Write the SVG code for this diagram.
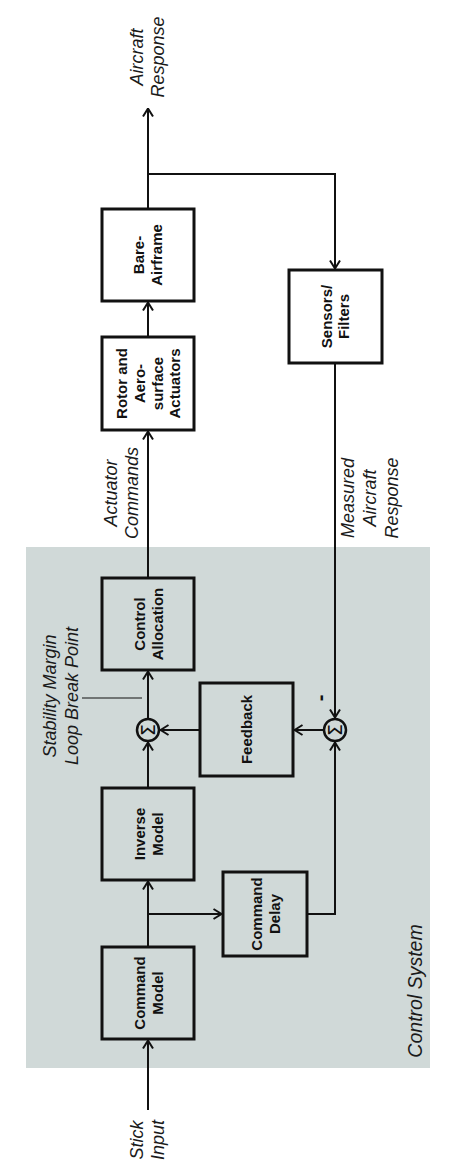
<svg xmlns="http://www.w3.org/2000/svg" width="474" height="1165" viewBox="0 0 474 1165">
<style>
.box{fill:none;stroke:#111;stroke-width:3}
.wbox{fill:#fff;stroke:#111;stroke-width:3}
.gbox{fill:#d0d9d8;stroke:#111;stroke-width:3}
.bl{font-family:"Liberation Sans",Arial,sans-serif;font-weight:bold;font-size:15px;fill:#111;text-anchor:middle}
.it{font-family:"Liberation Sans",Arial,sans-serif;font-style:italic;font-size:18px;fill:#1a1a1a;text-anchor:middle}
.ln{fill:none;stroke:#111;stroke-width:2}
.sum{fill:none;stroke:#111;stroke-width:2.5}
.sig{font-family:"DejaVu Sans",sans-serif;font-size:19px;fill:#111;text-anchor:middle}
</style>
<defs>
<marker id="arr" viewBox="0 0 10 12" refX="9.5" refY="6" markerWidth="10" markerHeight="12" markerUnits="userSpaceOnUse" orient="auto">
<path d="M1,1 L9,6 L1,11" fill="none" stroke="#111" stroke-width="2"/>
</marker>
</defs>
<rect id="control-system" x="26" y="547" width="404" height="521" fill="#d0d9d8"/>
<g id="connectors">
<path class="ln" d="M148,1110 V1040" marker-end="url(#arr)"/>
<path class="ln" d="M148,947 V881" marker-end="url(#arr)"/>
<path class="ln" d="M148,914 H222" marker-end="url(#arr)"/>
<path class="ln" d="M307,914 H335 V742" marker-end="url(#arr)"/>
<path class="ln" d="M148,788 V742" marker-end="url(#arr)"/>
<path class="ln" d="M335,363 V718" marker-end="url(#arr)"/>
<path class="ln" d="M324,730 H294" marker-end="url(#arr)"/>
<path class="ln" d="M200,730 H160" marker-end="url(#arr)"/>
<path class="ln" d="M148,718 V671" marker-end="url(#arr)"/>
<path class="ln" d="M148,578 V431" marker-end="url(#arr)"/>
<path class="ln" d="M148,337 V302" marker-end="url(#arr)"/>
<path class="ln" d="M148,209 V108" marker-end="url(#arr)"/>
<path class="ln" d="M148,174 H335 V269" marker-end="url(#arr)"/>
<path d="M82,698 H142" fill="none" stroke="#111" stroke-width="1"/>
</g>
<g id="bare-airframe">
<rect class="wbox" x="102" y="209" width="92" height="92"/>
<g transform="translate(148,255) rotate(-90)"><text class="bl" y="-3.7">Bare-</text><text class="bl" y="14.3">Airframe</text></g>
</g>
<g id="rotor-actuators">
<rect class="wbox" x="102" y="337" width="92" height="93"/>
<g transform="translate(148.5,383.5) rotate(-90)"><text class="bl" y="-21.2">Rotor and</text><text class="bl" y="-3.5">Aero-</text><text class="bl" y="14.1">surface</text><text class="bl" y="31.8">Actuators</text></g>
</g>
<g id="sensors-filters">
<rect class="wbox" x="289" y="270" width="93" height="93"/>
<g transform="translate(335.5,316.5) rotate(-90)"><text class="bl" y="-3.2">Sensors/</text><text class="bl" y="13.8">Filters</text></g>
</g>
<g id="control-allocation">
<rect class="gbox" x="102" y="578" width="92" height="92"/>
<g transform="translate(149,624) rotate(-90)"><text class="bl" y="-3.7">Control</text><text class="bl" y="14.3">Allocation</text></g>
</g>
<g id="feedback">
<rect class="gbox" x="200" y="683" width="93" height="93"/>
<g transform="translate(246.5,729.5) rotate(-90)"><text class="bl" y="5.3">Feedback</text></g>
</g>
<g id="sum-left">
<circle class="sum" cx="148" cy="730" r="11"/>
<g transform="translate(148,730) rotate(-90)"><text class="sig" y="6.9">Σ</text></g>
</g>
<g id="sum-right">
<circle class="sum" cx="335" cy="730" r="11"/>
<g transform="translate(335,730) rotate(-90)"><text class="sig" y="6.9">Σ</text></g>
<g transform="translate(321,698) rotate(-90)"><text class="bl" style="font-size:20px" y="6">-</text></g>
</g>
<g id="inverse-model">
<rect class="gbox" x="102" y="788" width="92" height="92"/>
<g transform="translate(149,834) rotate(-90)"><text class="bl" y="-3.7">Inverse</text><text class="bl" y="14.3">Model</text></g>
</g>
<g id="command-delay">
<rect class="gbox" x="223" y="872" width="84" height="84"/>
<g transform="translate(266,914) rotate(-90)"><text class="bl" y="-3.7">Command</text><text class="bl" y="14.3">Delay</text></g>
</g>
<g id="command-model">
<rect class="gbox" x="102" y="947" width="92" height="92"/>
<g transform="translate(149,993) rotate(-90)"><text class="bl" y="-3.7">Command</text><text class="bl" y="14.3">Model</text></g>
</g>
<g id="labels">
<g transform="translate(147.5,57) rotate(-90)"><text class="it" y="-4.2">Aircraft</text><text class="it" y="16.8">Response</text></g>
<g transform="translate(121.5,493) rotate(-90)"><text class="it" y="-4.2">Actuator</text><text class="it" y="16.8">Commands</text></g>
<g transform="translate(370,498) rotate(-90)"><text class="it" y="-15.7">Measured</text><text class="it" y="6.3">Aircraft</text><text class="it" y="28.3">Response</text></g>
<g transform="translate(61,696) rotate(-90)"><text class="it" y="-4.7">Stability Margin</text><text class="it" y="17.3">Loop Break Point</text></g>
<g transform="translate(415,991) rotate(-90)"><text class="it" style="font-size:19.5px" y="6.8">Control System</text></g>
<g transform="translate(147.5,1140) rotate(-90)"><text class="it" y="-4.2">Stick</text><text class="it" y="16.8">Input</text></g>
</g>
</svg>
